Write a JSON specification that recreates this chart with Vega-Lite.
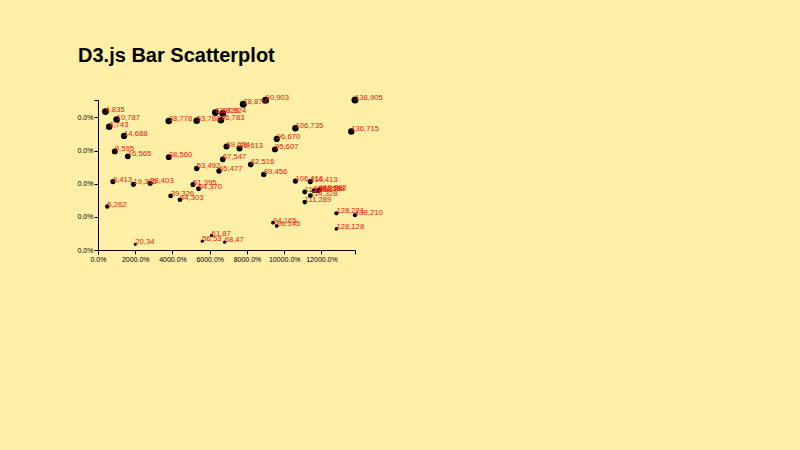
{
  "$schema": "https://vega.github.io/schema/vega-lite/v6.json",
  "description": "D3.js Bar Scatterplot",
  "width": 257,
  "height": 150,
  "autosize": "none",
  "padding": {"left": 98, "top": 100, "right": 445, "bottom": 200},
  "background": "#fdefa6",
  "config": {
    "view": {"stroke": null},
    "font": "Liberation Sans",
    "axis": {
      "grid": false,
      "title": null,
      "domainColor": "black",
      "tickColor": "black",
      "labelColor": "black",
      "labelFont": "Liberation Sans",
      "labelFontSize": 7,
      "tickSize": 4,
      "labelPadding": 1,
      "domainWidth": 1,
      "tickWidth": 1
    }
  },
  "title": {
    "text": "D3.js Bar Scatterplot",
    "anchor": "start",
    "font": "Liberation Sans",
    "fontSize": 20,
    "fontWeight": "bold",
    "color": "black",
    "offset": 28,
    "dx": 1
  },
  "data": {
    "values": [
      {"x": 4, "y": 835, "label": "4,835"},
      {"x": 10, "y": 787, "label": "10,787"},
      {"x": 6, "y": 743, "label": "6,743"},
      {"x": 14, "y": 688, "label": "14,688"},
      {"x": 9, "y": 595, "label": "9,595"},
      {"x": 16, "y": 565, "label": "16,565"},
      {"x": 38, "y": 560, "label": "38,560"},
      {"x": 38, "y": 778, "label": "38,778"},
      {"x": 53, "y": 780, "label": "53,780"},
      {"x": 63, "y": 829, "label": "63,829"},
      {"x": 67, "y": 824, "label": "67,824"},
      {"x": 66, "y": 783, "label": "66,783"},
      {"x": 78, "y": 879, "label": "78,879"},
      {"x": 90, "y": 903, "label": "90,903"},
      {"x": 138, "y": 905, "label": "138,905"},
      {"x": 106, "y": 735, "label": "106,735"},
      {"x": 136, "y": 715, "label": "136,715"},
      {"x": 96, "y": 670, "label": "96,670"},
      {"x": 95, "y": 607, "label": "95,607"},
      {"x": 69, "y": 624, "label": "69,624"},
      {"x": 76, "y": 613, "label": "76,613"},
      {"x": 67, "y": 547, "label": "67,547"},
      {"x": 82, "y": 516, "label": "82,516"},
      {"x": 89, "y": 456, "label": "89,456"},
      {"x": 53, "y": 492, "label": "53,492"},
      {"x": 65, "y": 477, "label": "65,477"},
      {"x": 8, "y": 413, "label": "8,413"},
      {"x": 19, "y": 396, "label": "19,396"},
      {"x": 28, "y": 403, "label": "28,403"},
      {"x": 51, "y": 395, "label": "51,395"},
      {"x": 54, "y": 370, "label": "54,370"},
      {"x": 39, "y": 326, "label": "39,326"},
      {"x": 44, "y": 303, "label": "44,303"},
      {"x": 5, "y": 262, "label": "5,262"},
      {"x": 20, "y": 34, "label": "20,34"},
      {"x": 61, "y": 87, "label": "61,87"},
      {"x": 56, "y": 53, "label": "56,53"},
      {"x": 68, "y": 47, "label": "68,47"},
      {"x": 94, "y": 165, "label": "94,165"},
      {"x": 96, "y": 145, "label": "96,145"},
      {"x": 128, "y": 221, "label": "128,221"},
      {"x": 138, "y": 210, "label": "138,210"},
      {"x": 128, "y": 128, "label": "128,128"},
      {"x": 106, "y": 416, "label": "106,416"},
      {"x": 114, "y": 413, "label": "114,413"},
      {"x": 111, "y": 350, "label": "111,350"},
      {"x": 116, "y": 358, "label": "116,358"},
      {"x": 118, "y": 358, "label": "118,358"},
      {"x": 119, "y": 362, "label": "119,362"},
      {"x": 114, "y": 328, "label": "114,328"},
      {"x": 111, "y": 289, "label": "111,289"}
    ]
  },
  "encoding": {
    "x": {
      "field": "x",
      "type": "quantitative",
      "scale": {"domain": [0, 138], "nice": false, "zero": true},
      "axis": {
        "values": [0, 20, 40, 60, 80, 100, 120, 138],
        "format": ".1%",
        "labelExpr": "datum.value == 138 ? '' : datum.label",
        "labelFlush": false,
        "labelOverlap": false
      }
    },
    "y": {
      "field": "y",
      "type": "quantitative",
      "scale": {"domain": [0, 905], "nice": false, "zero": true},
      "axis": {
        "values": [0, 200, 400, 600, 800, 905],
        "format": ".1%",
        "labelExpr": "datum.value == 905 ? '' : slice(datum.label, -4)",
        "labelOverlap": false
      }
    }
  },
  "layer": [
    {
      "mark": {"type": "circle", "color": "black", "opacity": 1},
      "encoding": {
        "size": {
          "field": "y",
          "type": "quantitative",
          "scale": {"domain": [0, 905], "range": [8, 49]},
          "legend": null
        }
      }
    },
    {
      "mark": {
        "type": "text",
        "align": "left",
        "baseline": "alphabetic",
        "font": "Liberation Sans",
        "fontSize": 7.7,
        "color": "#e8200c"
      },
      "encoding": {
        "text": {"field": "label", "type": "nominal"}
      }
    }
  ]
}
